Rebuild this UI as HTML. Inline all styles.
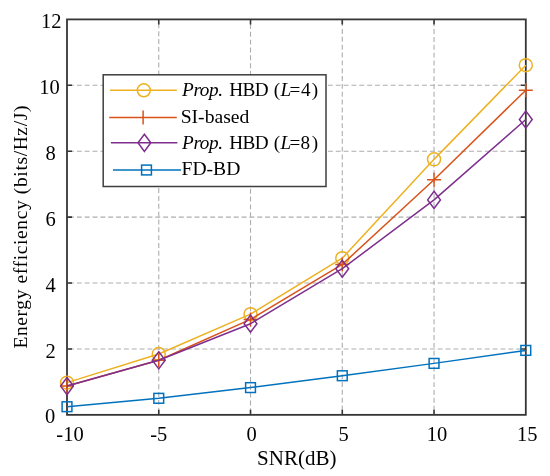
<!DOCTYPE html><html><head><meta charset="utf-8"><style>html,body{margin:0;padding:0;background:#fff;overflow:hidden}svg{display:block;filter:blur(0.25px)}text{font-family:"Liberation Serif", serif;fill:#000}</style></head><body>
<svg width="550" height="476" viewBox="0 0 550 476">
<rect width="550" height="476" fill="#fff"/>
<path d="M158.76 19.40V414.85" stroke="#adadad" stroke-width="1.1" stroke-dasharray="4.95 2.895" stroke-dashoffset="3.890" fill="none"/>
<path d="M250.52 19.40V414.85" stroke="#adadad" stroke-width="1.1" stroke-dasharray="4.95 2.895" stroke-dashoffset="3.290" fill="none"/>
<path d="M342.28 19.40V414.85" stroke="#adadad" stroke-width="1.1" stroke-dasharray="4.95 2.895" stroke-dashoffset="6.090" fill="none"/>
<path d="M434.04 19.40V414.85" stroke="#adadad" stroke-width="1.1" stroke-dasharray="4.95 2.895" stroke-dashoffset="5.990" fill="none"/>
<path d="M67.00 348.94H525.80M67.00 283.03H525.80M67.00 217.12H525.80M67.00 151.22H525.80M67.00 85.31H525.80" stroke="#adadad" stroke-width="1.1" stroke-dasharray="4.95 2.895" stroke-dashoffset="5.845" fill="none"/>
<path d="M158.76 414.85v-5.00M158.76 19.40v5.00M250.52 414.85v-5.00M250.52 19.40v5.00M342.28 414.85v-5.00M342.28 19.40v5.00M434.04 414.85v-5.00M434.04 19.40v5.00M67.00 348.94h5.00M525.80 348.94h-5.00M67.00 283.03h5.00M525.80 283.03h-5.00M67.00 217.12h5.00M525.80 217.12h-5.00M67.00 151.22h5.00M525.80 151.22h-5.00M67.00 85.31h5.00M525.80 85.31h-5.00" stroke="#363636" stroke-width="1.6" fill="none"/>
<rect x="67.00" y="19.40" width="458.80" height="395.45" stroke="#363636" stroke-width="1.8" fill="none"/>
<polyline points="67.00,382.65 158.76,354.02 250.52,314.14 342.28,258.15 434.04,159.36 525.80,65.17" stroke="#EDB120" stroke-width="1.50" fill="none" stroke-linejoin="round"/>
<circle cx="67.00" cy="382.65" r="6.5" stroke="#EDB120" stroke-width="1.50" fill="none"/>
<circle cx="158.76" cy="354.02" r="6.5" stroke="#EDB120" stroke-width="1.50" fill="none"/>
<circle cx="250.52" cy="314.14" r="6.5" stroke="#EDB120" stroke-width="1.50" fill="none"/>
<circle cx="342.28" cy="258.15" r="6.5" stroke="#EDB120" stroke-width="1.50" fill="none"/>
<circle cx="434.04" cy="159.36" r="6.5" stroke="#EDB120" stroke-width="1.50" fill="none"/>
<circle cx="525.80" cy="65.17" r="6.5" stroke="#EDB120" stroke-width="1.50" fill="none"/>
<polyline points="67.00,385.95 158.76,360.24 250.52,319.41 342.28,264.41 434.04,179.79 525.80,90.22" stroke="#D95319" stroke-width="1.50" fill="none" stroke-linejoin="round"/>
<path d="M60.00 385.95h14M67.00 378.95v14" stroke="#D95319" stroke-width="1.50" fill="none"/>
<path d="M151.76 360.24h14M158.76 353.24v14" stroke="#D95319" stroke-width="1.50" fill="none"/>
<path d="M243.52 319.41h14M250.52 312.41v14" stroke="#D95319" stroke-width="1.50" fill="none"/>
<path d="M335.28 264.41h14M342.28 257.41v14" stroke="#D95319" stroke-width="1.50" fill="none"/>
<path d="M427.04 179.79h14M434.04 172.79v14" stroke="#D95319" stroke-width="1.50" fill="none"/>
<path d="M518.80 90.22h14M525.80 83.22v14" stroke="#D95319" stroke-width="1.50" fill="none"/>
<polyline points="67.00,386.08 158.76,360.24 250.52,323.70 342.28,268.70 434.04,199.89 525.80,119.51" stroke="#7E2F8E" stroke-width="1.50" fill="none" stroke-linejoin="round"/>
<path d="M67.00 377.48l6.4 8.6l-6.4 8.6l-6.4 -8.6z" stroke="#7E2F8E" stroke-width="1.50" fill="none" stroke-linejoin="miter"/>
<path d="M158.76 351.64l6.4 8.6l-6.4 8.6l-6.4 -8.6z" stroke="#7E2F8E" stroke-width="1.50" fill="none" stroke-linejoin="miter"/>
<path d="M250.52 315.10l6.4 8.6l-6.4 8.6l-6.4 -8.6z" stroke="#7E2F8E" stroke-width="1.50" fill="none" stroke-linejoin="miter"/>
<path d="M342.28 260.10l6.4 8.6l-6.4 8.6l-6.4 -8.6z" stroke="#7E2F8E" stroke-width="1.50" fill="none" stroke-linejoin="miter"/>
<path d="M434.04 191.29l6.4 8.6l-6.4 8.6l-6.4 -8.6z" stroke="#7E2F8E" stroke-width="1.50" fill="none" stroke-linejoin="miter"/>
<path d="M525.80 110.91l6.4 8.6l-6.4 8.6l-6.4 -8.6z" stroke="#7E2F8E" stroke-width="1.50" fill="none" stroke-linejoin="miter"/>
<polyline points="67.00,406.71 158.76,398.31 250.52,387.60 342.28,375.73 434.04,363.38 525.80,350.39" stroke="#0072BD" stroke-width="1.50" fill="none" stroke-linejoin="round"/>
<rect x="62.10" y="401.81" width="9.8" height="9.8" stroke="#0072BD" stroke-width="1.50" fill="none"/>
<rect x="153.86" y="393.41" width="9.8" height="9.8" stroke="#0072BD" stroke-width="1.50" fill="none"/>
<rect x="245.62" y="382.70" width="9.8" height="9.8" stroke="#0072BD" stroke-width="1.50" fill="none"/>
<rect x="337.38" y="370.83" width="9.8" height="9.8" stroke="#0072BD" stroke-width="1.50" fill="none"/>
<rect x="429.14" y="358.48" width="9.8" height="9.8" stroke="#0072BD" stroke-width="1.50" fill="none"/>
<rect x="520.90" y="345.49" width="9.8" height="9.8" stroke="#0072BD" stroke-width="1.50" fill="none"/>
<text x="50.00" y="423.45" font-size="20.5" text-anchor="middle">0</text>
<text x="50.50" y="357.54" font-size="20.5" text-anchor="middle">2</text>
<text x="50.50" y="291.63" font-size="20.5" text-anchor="middle">4</text>
<text x="50.50" y="225.72" font-size="20.5" text-anchor="middle">6</text>
<text x="50.70" y="159.82" font-size="20.5" text-anchor="middle">8</text>
<text x="49.50" y="93.91" font-size="20.5" text-anchor="middle">10</text>
<text x="51.20" y="28.00" font-size="20.5" text-anchor="middle">12</text>
<text x="70.00" y="441.0" font-size="20.5" text-anchor="middle">-10</text>
<text x="158.76" y="441.0" font-size="20.5" text-anchor="middle">-5</text>
<text x="251.72" y="441.0" font-size="20.5" text-anchor="middle">0</text>
<text x="343.58" y="441.0" font-size="20.5" text-anchor="middle">5</text>
<text x="437.04" y="441.0" font-size="20.5" text-anchor="middle">10</text>
<text x="527.30" y="441.0" font-size="20.5" text-anchor="middle">15</text>
<text x="296.8" y="465.1" font-size="21.0" text-anchor="middle">SNR(dB)</text>
<text transform="translate(26.8 348.6) rotate(-90)" font-size="19.50" letter-spacing="0.62">Energy efficiency (bits/Hz/J)</text>
<rect x="103.2" y="74.8" width="222.8" height="111.7" fill="#fff" stroke="#3e3e3e" stroke-width="1.5"/>
<path d="M110.10 90.30H176.80" stroke="#EDB120" stroke-width="1.50"/>
<circle cx="143.80" cy="90.30" r="6.5" stroke="#EDB120" stroke-width="1.50" fill="none"/>
<path d="M109.20 117.40H176.80" stroke="#D95319" stroke-width="1.50"/>
<path d="M143.10 110.40v14" stroke="#D95319" stroke-width="1.50" fill="none"/>
<path d="M110.90 142.80H177.40" stroke="#7E2F8E" stroke-width="1.50"/>
<path d="M144.40 134.20l6.4 8.6l-6.4 8.6l-6.4 -8.6z" stroke="#7E2F8E" stroke-width="1.50" fill="none" stroke-linejoin="miter"/>
<path d="M113.00 170.00H181.00" stroke="#0072BD" stroke-width="1.50"/>
<rect x="141.60" y="165.10" width="9.8" height="9.8" stroke="#0072BD" stroke-width="1.50" fill="none"/>
<text y="96.4" font-size="19.2"><tspan x="182.1" font-style="italic" letter-spacing="-0.4">Prop.</tspan><tspan x="229.35" letter-spacing="-0.6">HBD</tspan><tspan x="273.7">(</tspan><tspan x="280.5" font-style="italic">L</tspan><tspan x="289.5">=</tspan><tspan x="300.9">4</tspan><tspan x="311.7">)</tspan></text>
<text x="180.7" y="122.8" font-size="19.6">SI-based</text>
<text y="148.8" font-size="19.2"><tspan x="182.1" font-style="italic" letter-spacing="-0.4">Prop.</tspan><tspan x="229.35" letter-spacing="-0.6">HBD</tspan><tspan x="273.7">(</tspan><tspan x="280.5" font-style="italic">L</tspan><tspan x="289.5">=</tspan><tspan x="300.6">8</tspan><tspan x="311.7">)</tspan></text>
<text x="181.5" y="175.1" font-size="19.6">FD-BD</text>
</svg></body></html>
